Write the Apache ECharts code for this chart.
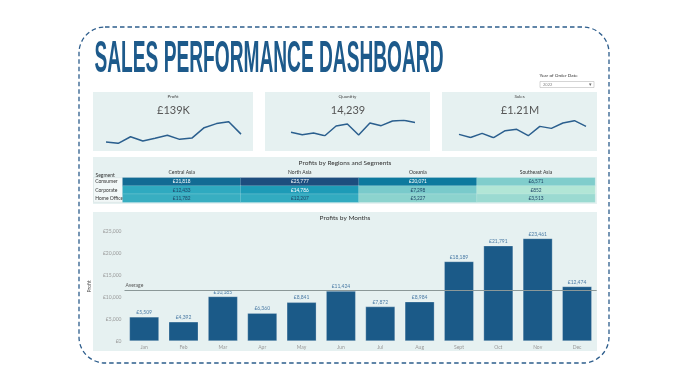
<!DOCTYPE html>
<html><head><meta charset="utf-8">
<script src="https://cdn.jsdelivr.net/npm/echarts@6/dist/echarts.min.js"></script>
<style>html,body{margin:0;padding:0;background:#fff}#c{width:680px;height:383px}</style>
</head><body><div id="c"></div>
<script>
// ---- data ----
const months = ['Jan','Feb','Mar','Apr','May','Jun','Jul','Aug','Sept','Oct','Nov','Dec'];
const monthlyProfit = [5509,4392,10185,6360,8841,11424,7872,8984,18189,21791,23461,12474];
const monthlyQuantity = [963,849,930,800,1273,1371,833,1420,1289,1517,1550,1444];
const monthlySales = [83700,70500,87800,70000,98800,104300,78200,116600,108400,130400,140000,116600];
const regions = ['Central Asia','North Asia','Oceania','Southeast Asia'];
const segments = ['Consumer','Corporate','Home Office'];
const consumerProfit = [21818,25777,20071,6571];
const corporateProfit = [12433,14786,7298,852];
const homeOfficeProfit = [11782,12207,5227,3513];
const kpiTitles = ['Profit','Quantity','Sales'];
const kpiValues = ['£139K','14,239','£1.21M'];
const profitTicks = [0,5000,10000,15000,20000,25000];
const yearLabel = 'Year of Order Date';
const yearValue = '2022';
const dashboardTitle = 'SALES PERFORMANCE DASHBOARD';

// ---- styles ----
const FONT = 'Lato, "Noto Sans", sans-serif';
const panelColor = '#e6f1f1';
const sparkColor = '#2b5f8e';
const barColor = '#1b5a88';
const titleColor = '#1d5a8b';
const fmtGBP = v => '£' + Math.round(v).toLocaleString('en-GB');

const chart = echarts.init(document.getElementById('c'), null, {renderer:'canvas'});

// title scaling to get the tall condensed look
const TITLE_FONT = '"Liberation Sans", Arial, sans-serif';
const titleSize = 36;
const titleScaleY = 1.23;
const mctx = document.createElement('canvas').getContext('2d');
mctx.font = 'bold ' + titleSize + 'px ' + TITLE_FONT;
const titleW = mctx.measureText(dashboardTitle).width;
const titleScaleX = 349 / titleW;

function panel(x,y,w,h){ return {type:'rect', z:-10, shape:{x:x,y:y,width:w,height:h}, style:{fill:panelColor}}; }
function txt(x,y,t,size,color,align,extra){ return Object.assign({type:'text', z:5, x:x, y:y, style:{text:t, fontSize:size, fontFamily:FONT, fill:color, align:align||'center', verticalAlign:'middle'}}, extra||{}); }

const kpiCards = [{x:93,w:160},{x:265,w:165},{x:442,w:155}];
const graphics = [
  {type:'rect', z:-5, shape:{x:79,y:27,width:530,height:336,r:26}, style:{fill:'none', stroke:'#2d5d8c', lineWidth:1.3, lineDash:[4.5,3]}},
  {type:'text', z:5, x:94.5, y:60, scaleX:titleScaleX, scaleY:titleScaleY, style:{text:dashboardTitle, font:'bold '+titleSize+'px '+TITLE_FONT, fill:titleColor, align:'left', verticalAlign:'middle'}},
  txt(539.5, 75.5, yearLabel, 4.6, '#333', 'left'),
  {type:'rect', z:4, shape:{x:540,y:81.5,width:54,height:6}, style:{fill:'#fff', stroke:'#aaa', lineWidth:0.5}},
  txt(543, 84.6, yearValue, 4, '#888', 'left'),
  txt(590, 84.6, '▾', 4.5, '#666', 'center'),
  panel(93,157,504,47),
  panel(93,212,504,139),
  txt(345, 162.5, 'Profits by Regions and Segments', 6.5, '#333'),
  txt(95.5, 175, 'Segment', 5, '#333', 'left'),
  {type:'rect', z:-9, shape:{x:93.5,y:177.7,width:29,height:24.6}, style:{fill:'#f2f8f8', stroke:'#c9d6d6', lineWidth:0.4}},
  txt(345, 218.3, 'Profits by Months', 6.5, '#333')
];
kpiCards.forEach((c,i)=>{
  graphics.push(panel(c.x,92,c.w,59));
  graphics.push(txt(c.x+c.w/2, 96.3, kpiTitles[i], 4.6, '#444'));
  graphics.push(txt(c.x+c.w/2+0.5, 110.7, kpiValues[i], 11, '#555'));
});

const heatData = [];
[consumerProfit, corporateProfit, homeOfficeProfit].forEach((row, yi)=>{
  row.forEach((v, xi)=>{
    heatData.push({value:[xi, yi, v], label:{color: v > 14000 ? '#ffffff' : '#1f4466'}});
  });
});
const allHeat = consumerProfit.concat(corporateProfit, homeOfficeProfit);

const sparkGrids = [
  {left:106, top:121.7, width:135, height:21.6},
  {left:291, top:120.3, width:124, height:15.4},
  {left:459, top:120.7, width:127, height:17}
];
const grids = sparkGrids.concat([
  {left:122.7, top:177.7, width:472.3, height:24.6},
  {left:124.5, top:231.7, width:472.2, height:109.3}
]).map(g => Object.assign({outerBoundsMode:'none', containLabel:false}, g));

const xAxes = [0,1,2].map(i => ({type:'category', gridIndex:i, data:months, boundaryGap:false, show:false}));
const yAxes = [0,1,2].map(i => ({type:'value', gridIndex:i, show:false, scale:true, min:v=>v.min, max:v=>v.max}));
xAxes.push({type:'category', gridIndex:3, data:regions, position:'top', axisLine:{show:false}, axisTick:{show:false},
  axisLabel:{fontSize:5, color:'#333', fontFamily:FONT, margin:2.5}});
yAxes.push({type:'category', gridIndex:3, data:segments, inverse:true, axisLine:{show:false}, axisTick:{show:false},
  axisLabel:{fontSize:5, color:'#333', fontFamily:FONT, align:'left', margin:27.5}});
xAxes.push({type:'category', gridIndex:4, data:months, axisLine:{show:false}, axisTick:{show:false},
  axisLabel:{fontSize:5, color:'#999', fontFamily:FONT, margin:4, interval:0}});
yAxes.push({type:'value', gridIndex:4, min:profitTicks[0], max:profitTicks[profitTicks.length-1], interval:profitTicks[1]-profitTicks[0],
  splitLine:{show:false}, axisLine:{show:false}, axisTick:{show:false},
  axisLabel:{fontSize:5, color:'#999', fontFamily:FONT, margin:3, formatter:fmtGBP},
  name:'Profit', nameLocation:'middle', nameGap:24, nameRotate:90, nameTextStyle:{fontSize:5, color:'#555', fontFamily:FONT}});

const sparkData = [monthlyProfit, monthlyQuantity, monthlySales];
const series = sparkData.map((d,i)=>({type:'line', xAxisIndex:i, yAxisIndex:i, data:d, showSymbol:false, symbol:'none',
  lineStyle:{color:sparkColor, width:1.5}, silent:true, animation:false}));
series.push({type:'heatmap', xAxisIndex:3, yAxisIndex:3, data:heatData,
  itemStyle:{borderColor:'rgba(255,255,255,0.35)', borderWidth:0.5},
  label:{show:true, fontSize:4.8, fontFamily:FONT, formatter:p=>fmtGBP(p.value[2])}, animation:false});
series.push({type:'bar', xAxisIndex:4, yAxisIndex:4, data:monthlyProfit, barWidth:'75%',
  itemStyle:{color:barColor, borderColor:'rgba(255,255,255,0.5)', borderWidth:0.5},
  label:{show:true, position:'top', distance:2, fontSize:5, color:'#4c7ca6', fontFamily:FONT, formatter:p=>fmtGBP(p.value)},
  markLine:{silent:true, symbol:['none','none'], data:[{type:'average'}],
    lineStyle:{color:'#8b9898', type:'solid', width:1},
    label:{position:'insideStartTop', formatter:'Average', fontSize:5, color:'#555', fontFamily:FONT, distance:[1,2]}},
  animation:false});

chart.setOption({
  animation:false,
  backgroundColor:'#ffffff',
  graphic:{elements:graphics},
  grid:grids,
  xAxis:xAxes,
  yAxis:yAxes,
  visualMap:{show:false, seriesIndex:3, dimension:2, min:Math.min.apply(null, allHeat), max:Math.max.apply(null, allHeat),
    inRange:{color:['#b2e6d6','#7ccbcb','#22a4be','#0c7da1','#1d4d7e']}},
  series:series
});
</script></body></html>
